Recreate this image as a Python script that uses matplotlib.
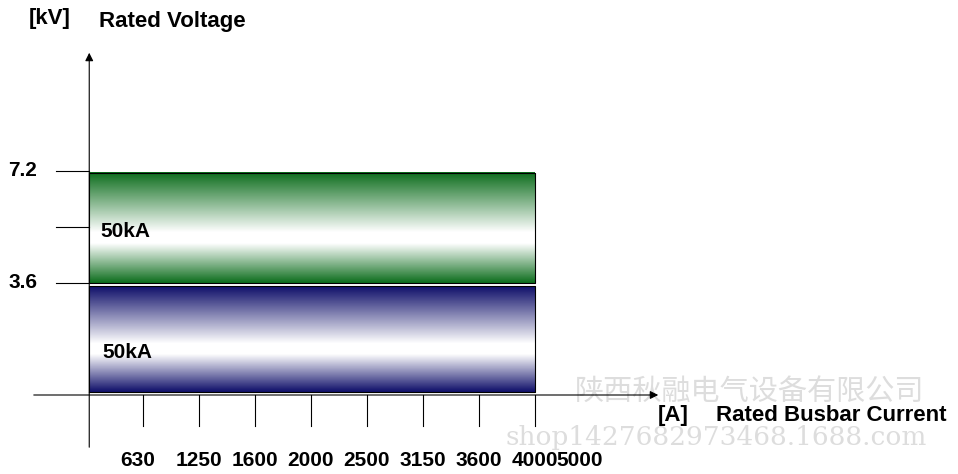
import numpy as np
import matplotlib
matplotlib.use("Agg")
import matplotlib.pyplot as plt
from matplotlib.colors import LinearSegmentedColormap

current_labels = ["630", "1250", "1600", "2000", "2500", "3150", "3600", "4000", "5000"]
label_pos = [-0.1, 1, 2, 3, 4, 5, 6, 7, 7.8]
tick_pos = [0, 1, 2, 3, 4, 5, 6, 7]
voltage_ticks = [3.6, 7.2]
mid_tick = 5.4
bands = [  # (bottom kV, top kV, label, dark colour, label y)
    (0.1, 3.5, "50kA", "#10106a", 1.38),
    (3.6, 7.15, "50kA", "#0e6e1e", 5.24),
]
x_end = 7.0
x0 = -0.96

plt.rcParams['font.family'] = ['Liberation Sans', 'DejaVu Sans']
fig = plt.figure(figsize=(9.58, 4.74), dpi=100)
ax = fig.add_axes([0, 0, 1, 1])
pxk = 112 / 3.6
ax.set_ylim(-79 / pxk, 395 / pxk)
ax.set_xlim(-143 / 56, (958 - 143) / 56)
ax.axis('off')

grad = np.concatenate([np.linspace(0, 1, 60), np.linspace(1, 1, 10), np.linspace(1, 0, 40)])
for b, t, lab, col, ly in bands:
    cmap = LinearSegmentedColormap.from_list("g", [col, "white"])
    ax.imshow(grad[:, None], cmap=cmap, aspect='auto', extent=[x0, x_end, b, t], origin='upper',
              interpolation='bilinear', zorder=1)
    ax.plot([x0, x_end, x_end, x0, x0], [b, b, t, t, b], color='black', lw=0.8, zorder=2)
    ax.text(x0 + 0.2 + (0.03 if b < 1 else 0), ly, lab, fontsize=15, fontweight='bold',
            va='center', zorder=3)

ax.annotate("", xy=(x0, 345 / pxk), xytext=(x0, -55 / pxk),
            arrowprops=dict(arrowstyle='-|>', color='black', lw=0.8, mutation_scale=12))
ax.annotate("", xy=(9.25, 0), xytext=(-2.0, 0),
            arrowprops=dict(arrowstyle='-|>', color='black', lw=0.8, mutation_scale=12))
for v in voltage_ticks + [mid_tick]:
    ax.plot([-1.55, x0], [v, v], color='black', lw=0.8)
for v in voltage_ticks:
    ax.text(-2.15, v, str(v), fontsize=15, fontweight='bold', ha='center', va='center')
for p in tick_pos:
    ax.plot([p, p], [0, -1.0], color='black', lw=0.8)
for p, l in zip(label_pos, current_labels):
    ax.text(p, -2.12, l, fontsize=15, fontweight='bold', ha='center', va='center')

ax.text(-1.66, 12.1, "[kV]", fontsize=16, fontweight='bold', ha='center', va='center')
ax.text(-0.79, 12.0, "Rated Voltage", fontsize=16, fontweight='bold', ha='left', va='center')
ax.text(9.46, -0.65, "[A]", fontsize=16, fontweight='bold', ha='center', va='center')
ax.text(10.23, -0.65, "Rated Busbar Current", fontsize=16, fontweight='bold', ha='left', va='center')

ax.text(13.95, 0.1, "陕西秋融电气设备有限公司", fontsize=21, color='#dddddd', ha='right', va='center',
        family=['Noto Sans CJK SC', 'DejaVu Sans'], zorder=0)
ax.text(14.0, -1.35, "shop1427682973468.1688.com", fontsize=19, color='#dddddd', ha='right', va='center',
        family=['DejaVu Serif'], zorder=0)

fig.savefig("out.png", dpi=100)
